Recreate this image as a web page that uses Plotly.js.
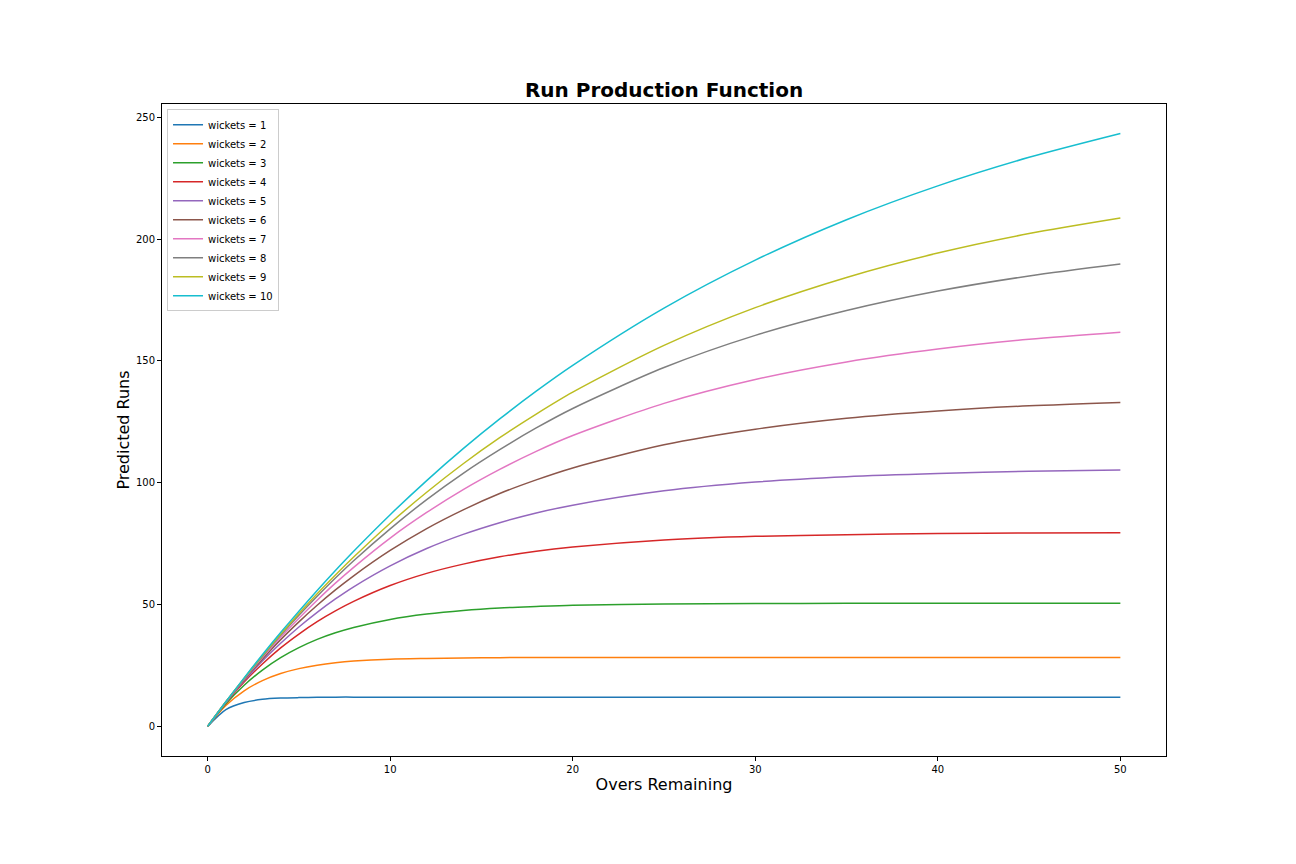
<!DOCTYPE html>
<html>
<head>
<meta charset="utf-8">
<script src="https://cdn.plot.ly/plotly-3.0.1.min.js"></script>
<style>
  body { margin: 0; background: #fff; }
</style>
</head>
<body>
<div id="plotDiv"></div>
<script>
var overs = [0, 1, 2, 3, 4, 5, 6, 7, 8, 10, 12, 14, 16, 18, 20, 25, 30, 35, 40, 45, 50];

var w1 = [0, 6.9, 9.8, 11.1, 11.6, 11.8, 11.9, 12.0, 12.0, 12.0, 12.0, 12.0, 12.0, 12.0, 12.0, 12.0, 12.0, 12.0, 12.0, 12.0, 12.0];
var w2 = [0, 8.6, 14.6, 18.8, 21.7, 23.7, 25.1, 26.1, 26.8, 27.6, 27.9, 28.1, 28.2, 28.3, 28.3, 28.3, 28.3, 28.3, 28.3, 28.3, 28.3];
var w3 = [0, 9.3, 16.9, 23.1, 28.2, 32.3, 35.7, 38.4, 40.6, 43.9, 46.1, 47.6, 48.6, 49.2, 49.7, 50.2, 50.4, 50.5, 50.5, 50.5, 50.5];
var w4 = [0, 9.7, 18.2, 25.6, 32.2, 37.9, 43.0, 47.4, 51.3, 57.8, 62.8, 66.6, 69.6, 71.9, 73.6, 76.5, 78.0, 78.7, 79.2, 79.4, 79.5];
var w5 = [0, 9.8, 18.7, 26.8, 34.1, 40.8, 46.8, 52.3, 57.3, 65.9, 73.0, 78.8, 83.6, 87.6, 90.8, 96.7, 100.3, 102.5, 103.8, 104.7, 105.2];
var w6 = [0, 9.9, 19.1, 27.6, 35.6, 42.9, 49.7, 56.0, 61.8, 72.2, 81.2, 88.9, 95.6, 101.2, 106.1, 115.6, 122.0, 126.5, 129.5, 131.6, 133.0];
var w7 = [0, 10.0, 19.4, 28.3, 36.6, 44.4, 51.8, 58.8, 65.3, 77.3, 87.8, 97.2, 105.5, 112.9, 119.4, 132.6, 142.4, 149.6, 154.9, 158.9, 161.8];
var w8 = [0, 10.1, 19.6, 28.7, 37.4, 45.6, 53.4, 60.9, 68.0, 81.1, 93.1, 103.9, 113.6, 122.5, 130.5, 147.3, 160.5, 170.7, 178.7, 184.9, 189.8];
var w9 = [0, 10.1, 19.7, 29.0, 37.8, 46.3, 54.4, 62.1, 69.5, 83.4, 96.1, 107.8, 118.5, 128.2, 137.2, 156.4, 171.9, 184.3, 194.3, 202.3, 208.7];
var w10 = [0, 10.1, 19.9, 29.4, 38.5, 47.3, 55.8, 64.0, 71.9, 86.9, 100.9, 114.0, 126.2, 137.6, 148.2, 171.7, 191.4, 208.0, 221.9, 233.6, 243.4];

var series = [w1, w2, w3, w4, w5, w6, w7, w8, w9, w10];
var names = ['wickets = 1', 'wickets = 2', 'wickets = 3', 'wickets = 4', 'wickets = 5',
             'wickets = 6', 'wickets = 7', 'wickets = 8', 'wickets = 9', 'wickets = 10'];
var colors = ['#1f77b4', '#ff7f0e', '#2ca02c', '#d62728', '#9467bd',
              '#8c564b', '#e377c2', '#7f7f7f', '#bcbd22', '#17becf'];

var xTicks = [0, 10, 20, 30, 40, 50];
var yTicks = [0, 50, 100, 150, 200, 250];

var data = [];
for (var i = 0; i < series.length; i++) {
  data.push({
    x: overs,
    y: series[i],
    name: names[i],
    type: 'scatter',
    mode: 'lines',
    line: {color: colors[i], width: 1.5, shape: 'spline', smoothing: 0.8}
  });
}

var axisStyle = {
  showgrid: false,
  zeroline: false,
  showline: true,
  mirror: true,
  linecolor: '#000',
  linewidth: 1,
  ticks: 'outside',
  ticklen: 4,
  tickwidth: 1,
  tickcolor: '#000',
  tickfont: {family: 'DejaVu Sans', size: 10, color: '#000'}
};

var layout = {
  width: 1296,
  height: 864,
  paper_bgcolor: '#fff',
  plot_bgcolor: '#fff',
  margin: {l: 162, r: 130, t: 104, b: 108},
  title: {
    text: '<b>Run Production Function</b>',
    font: {family: 'DejaVu Sans', size: 20, color: '#000'},
    x: 0.5124, xanchor: 'center',
    y: 0.8877, yanchor: 'bottom'
  },
  xaxis: Object.assign({}, axisStyle, {
    range: [-2.5, 52.5],
    tickvals: xTicks,
    title: {text: 'Overs Remaining', font: {family: 'DejaVu Sans', size: 16, color: '#000'}, standoff: 4}
  }),
  yaxis: Object.assign({}, axisStyle, {
    range: [-12.17, 255.5],
    tickvals: yTicks,
    title: {text: 'Predicted Runs', font: {family: 'DejaVu Sans', size: 16, color: '#000'}, standoff: 2}
  }),
  showlegend: true,
  legend: {
    x: 0.005, y: 0.992,
    xanchor: 'left', yanchor: 'top',
    bgcolor: 'rgba(255,255,255,0.8)',
    bordercolor: '#cccccc',
    borderwidth: 1,
    itemwidth: 30,
    tracegroupgap: 0,
    font: {family: 'DejaVu Sans', size: 10, color: '#000'}
  }
};

Plotly.newPlot('plotDiv', data, layout, {displayModeBar: false});
</script>
</body>
</html>
